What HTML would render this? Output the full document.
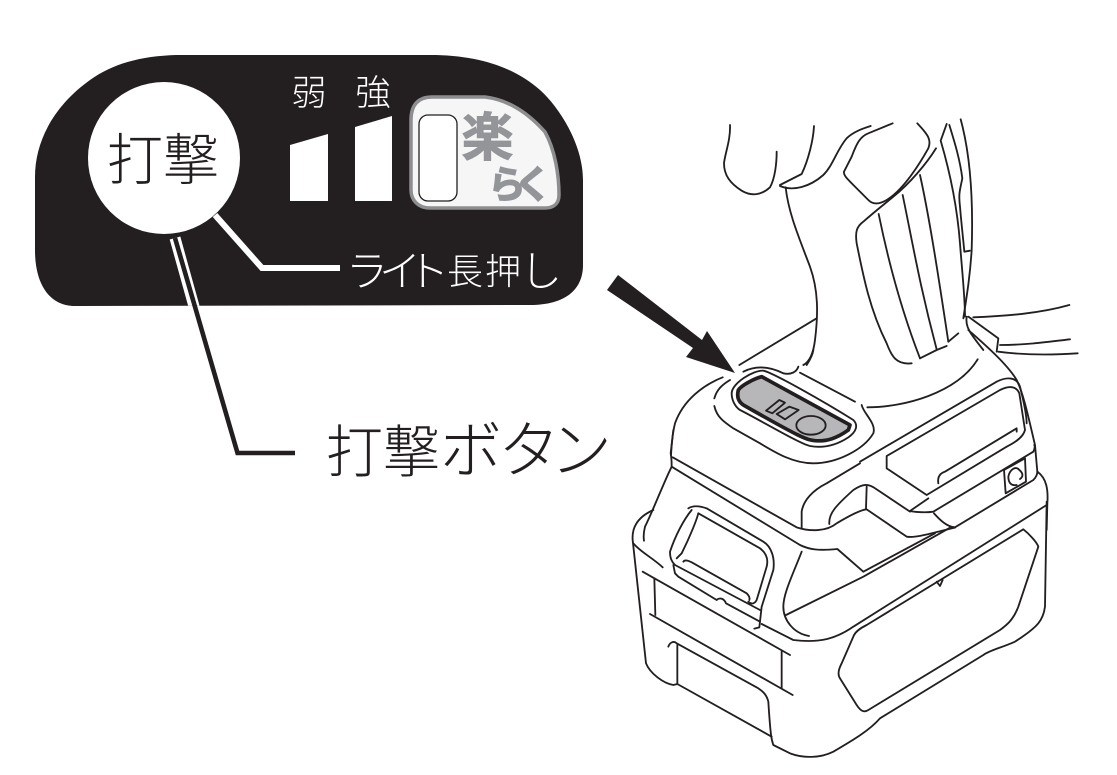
<!DOCTYPE html>
<html lang="ja">
<head>
<meta charset="utf-8">
<title>打撃ボタン</title>
<style>
html,body{margin:0;padding:0;background:#fff;width:1117px;height:775px;overflow:hidden}
svg{display:block}
text{font-family:"Liberation Sans","Noto Sans CJK JP",sans-serif}
.l{fill:none;stroke:#231f20;stroke-width:5.5;stroke-linecap:round;stroke-linejoin:round}
</style>
</head>
<body>
<svg width="1117" height="775" viewBox="0 0 1117 775" xmlns="http://www.w3.org/2000/svg">
<defs>
<clipPath id="pc"><path d="M35 250L35 177C35 140 55 105 90 80C115 62 145 56 176 55L430 55C480 55 515 68 540 90C560 108 583 145 583 180L583 265C583 290 565 305 530 305L75 306C50 306 35 285 35 250Z"/></clipPath>
</defs>

<!-- label panel -->
<path fill="#231f20" d="M35 250L35 177C35 140 55 105 90 80C115 62 145 56 176 55L430 55C480 55 515 68 540 90C560 108 583 145 583 180L583 265C583 290 565 305 530 305L75 306C50 306 35 285 35 250Z"/>
<ellipse cx="164" cy="158" rx="76" ry="76" fill="#fff"/>
<text x="163" y="180" font-size="56" text-anchor="middle" fill="#231f20" font-weight="300">打撃</text>
<text x="309" y="105" font-size="35" text-anchor="middle" fill="#fff" font-weight="300">弱</text>
<text x="373" y="105" font-size="35" text-anchor="middle" fill="#fff" font-weight="300">強</text>
<polygon points="290,145 328,134 328,201 290,201" fill="#fff"/>
<polygon points="355,127 392,116 392,201 355,201" fill="#fff"/>
<path d="M411 120C411 103 420 97 432 97L485 97C510 100 530 115 545 132C555 150 559 175 559 195C559 205 552 208 545 208L430 208C418 208 411 200 411 190Z" fill="#f6f6f6" stroke="#8e8e90" stroke-width="3.5"/>
<rect x="419" y="115" width="38" height="86" rx="9" fill="#fff" stroke="#231f20" stroke-width="1.3"/>
<text x="487.5" y="156" font-size="52" text-anchor="middle" fill="#939598" stroke="#939598" stroke-width="1" font-weight="700">楽</text>
<text x="488" y="198" font-size="38" fill="#939598" stroke="#939598" stroke-width="1.4" font-weight="700">ら</text>
<text x="514" y="198" font-size="38" fill="#939598" stroke="#939598" stroke-width="1.4" font-weight="700">く</text>
<path d="M215 215L262 268L340 268" fill="none" stroke="#fff" stroke-width="6"/>
<text y="286" font-size="42" fill="#fff" font-weight="300" x="346 379 407">ライト</text>
<text y="284" font-size="36" fill="#fff" font-weight="300" x="447 485">長押</text>
<text y="286" font-size="42" fill="#fff" font-weight="300" x="520">し</text>
<path d="M175 238L195 310" fill="none" stroke="#fff" stroke-width="11" clip-path="url(#pc)"/>
<path d="M175 238L237.5 453L295 453" fill="none" stroke="#231f20" stroke-width="4.6"/>
<text x="326" y="472" font-size="57" fill="#231f20" font-weight="300">打撃</text>
<text y="472" font-size="62" fill="#231f20" font-weight="300" x="440 498 550">ボタン</text>

<!-- arrow -->
<polygon points="618,275 702,340 707,331 735,373 686,357 693,348 607,290" fill="#231f20"/>

<!-- tool upper -->
<g transform="translate(620,100) scale(.33333)" class="l">
<path class="l" d="M330 75C332 120 315 160 312 190C312 225 330 250 365 272C395 290 425 285 450 262C465 235 470 190 470 155"/>
<path class="l" d="M582 78C580 120 565 180 545 222L480 255"/>
<path class="l" d="M480 258C520 275 570 260 610 225C640 195 650 150 680 115C700 95 730 85 752 78"/>
<path class="l" d="M818 70L745 100C720 110 710 130 695 170L672 215C670 225 680 235 700 255L745 300C760 315 780 312 800 300C850 270 900 190 925 145C935 120 925 105 892 70"/>
<path class="l" d="M948 145C920 190 870 250 820 290C790 315 770 330 730 365C710 380 705 395 710 430C730 530 750 630 800 730C815 770 830 795 875 790"/>
<path class="l" d="M776 342C800 460 840 620 900 775"/>
<path class="l" d="M848 285C880 440 900 560 950 748"/>
<path class="l" d="M900 225C930 360 960 560 985 725"/>
<path class="l" d="M900 775L950 750L980 738M985 725L1015 700"/>
<path class="l" d="M497 262C505 340 540 420 570 500C595 570 595 640 585 720C580 760 570 785 550 795"/>
<path class="l" d="M590 655L358 795"/>
<path class="l" d="M1022 58C1050 160 1060 300 1055 450C1050 530 1040 590 1030 655"/>
<path class="l" d="M988 75C1005 130 1020 180 1027 235C1020 270 1015 280 1020 320C1025 380 1030 420 1033 455L1050 452"/>
<path class="l" d="M980 72L962 122C985 200 1010 300 1020 430C1025 500 1035 590 1035 650"/>
<path class="l" d="M1040 650C1035 680 1050 700 1090 750"/>
<path class="l" d="M1045 650L1135 715L1130 755"/>
<path class="l" d="M1060 652C1160 648 1260 640 1348 615"/>
<path class="l" d="M1140 735C1220 735 1290 725 1350 718"/>
<path class="l" d="M1135 755C1210 765 1300 765 1373 760"/>
</g>

<!-- button area -->
<g transform="translate(660,350) scale(.33333)">
<path d="M305 80L570 225L565 240C530 265 500 275 465 272C440 270 420 262 250 165C235 155 230 140 235 120C245 105 285 85 305 80Z" fill="#b7b7b9" stroke="#231f20" stroke-width="11" stroke-linejoin="round"/>
<path class="l" d="M318 182L358 150L375 158L337 190Z"/>
<path class="l" d="M350 192L388 170L416 180L375 208Z"/>
<ellipse cx="453" cy="226" rx="44" ry="28" class="l"/>
<path class="l" d="M215 130C215 100 280 60 310 62C340 68 500 160 580 210C595 225 590 245 565 262C530 285 490 295 450 288C420 282 300 210 240 180C225 170 215 150 215 130Z"/>
<path class="l" d="M250 65C290 45 330 50 370 70C395 75 410 65 415 50"/>
<path class="l" d="M420 68L585 155"/>
<path class="l" d="M605 165C610 190 650 220 640 250C610 300 530 340 460 340C400 340 350 310 300 280L220 235C190 215 170 200 163 168"/>
<path class="l" d="M163 145C170 120 185 105 210 90"/>
<path class="l" d="M188 82C130 105 70 150 45 220C35 260 35 290 33 315"/>
<path class="l" d="M440 45C450 30 458 15 460 0"/>
</g>

<!-- right rear recess -->
<g transform="translate(860,330) scale(.33333)">
<path class="l" d="M0 395L410 155C440 140 470 140 480 170C490 210 500 260 500 280"/>
<path class="l" d="M22 232C130 232 290 190 353 88"/>
<path class="l" d="M80 378L420 180C450 165 470 170 478 190L495 300C490 320 470 335 440 350L200 495L80 415Z"/>
<path class="l" d="M205 505L150 543C170 547 200 548 220 545L520 365C525 355 525 350 523 345"/>
<path class="l" d="M235 460C232 440 240 430 255 425L470 295L470 305"/>
<path class="l" d="M325 0C370 40 440 100 470 150C490 190 505 260 525 345L532 425"/>
<path class="l" d="M222 550C240 570 260 590 285 592L520 450C530 440 532 430 532 425"/>
<path class="l" d="M532 425C560 445 565 480 562 520L560 600"/>
<path class="l" d="M432 420L495 385L498 455L437 490Z"/>
<path class="l" d="M478 420C470 408 450 415 445 440C445 460 455 468 470 465M478 420C490 430 490 440 480 447"/>
</g>

<!-- tool lower -->
<g transform="translate(620,430) scale(.33333)">
<path class="l" d="M160 0L152 70C155 85 155 95 155 110C130 160 100 240 75 290C70 310 70 320 72 332"/>
<path class="l" d="M158 82L530 292C570 305 620 305 650 280C680 262 720 240 740 238L860 320C890 325 950 305 1005 293"/>
<path class="l" d="M155 110L540 345C570 360 600 362 652 357L730 425"/>
<path class="l" d="M730 425L945 310"/>
<path class="l" d="M545 295L545 245C550 210 580 180 620 160L720 100"/>
<path class="l" d="M628 282C625 250 650 225 700 180C730 160 745 160 770 178L870 245"/>
<path class="l" d="M740 170L738 235"/>
<path class="l" d="M1280 215L1275 530C1270 570 1255 590 1185 635C1140 655 1110 660 1090 675L780 865C750 900 700 930 640 965C600 985 550 985 510 970L460 945C455 930 452 925 445 815C440 795 430 785 415 775L170 640C160 630 148 640 145 650"/>
<path class="l" d="M455 920L172 762L172 645"/>
<path class="l" d="M172 762L160 765C130 760 90 730 78 700L38 330C35 290 55 260 100 240"/>
<path class="l" d="M40 340C60 365 100 385 128 412"/>
<path class="l" d="M68 425L510 675"/>
<path class="l" d="M90 552L518 795"/>
<path class="l" d="M103 445L106 555"/>
<path class="l" d="M485 665L485 775"/>
<path class="l" d="M205 235C220 225 240 228 260 235L430 335C455 350 465 385 460 420L425 530L418 592L403 596"/>
<path class="l" d="M235 250L420 355C440 370 445 390 440 410L410 510C405 520 395 525 385 515"/>
<path class="l" d="M235 250C230 270 210 320 185 370L170 385"/>
<path class="l" d="M215 240C190 270 165 320 150 365C150 385 155 395 165 405L420 540"/>
<path class="l" d="M160 405L165 430L175 440L290 510C295 505 310 500 318 520L420 575"/>
<path class="l" d="M190 395C195 388 205 392 215 397L380 490C388 498 390 505 388 510"/>
<path class="l" d="M425 582L520 630C600 640 650 625 700 590L1280 225"/>
<path class="l" d="M498 555L730 440L990 293"/>
<path class="l" d="M545 365C520 430 490 490 490 530C490 570 520 610 567 618"/>
<path class="l" d="M1210 298C1225 310 1250 335 1255 350L1195 530C1180 570 1160 585 1140 600L745 840C730 850 720 840 710 825L660 745C650 730 660 710 665 700L700 620C705 605 720 595 740 585L1210 298Z"/>
<path class="l" d="M950 455L960 468L968 450"/>
</g>
</svg>
</body>
</html>
